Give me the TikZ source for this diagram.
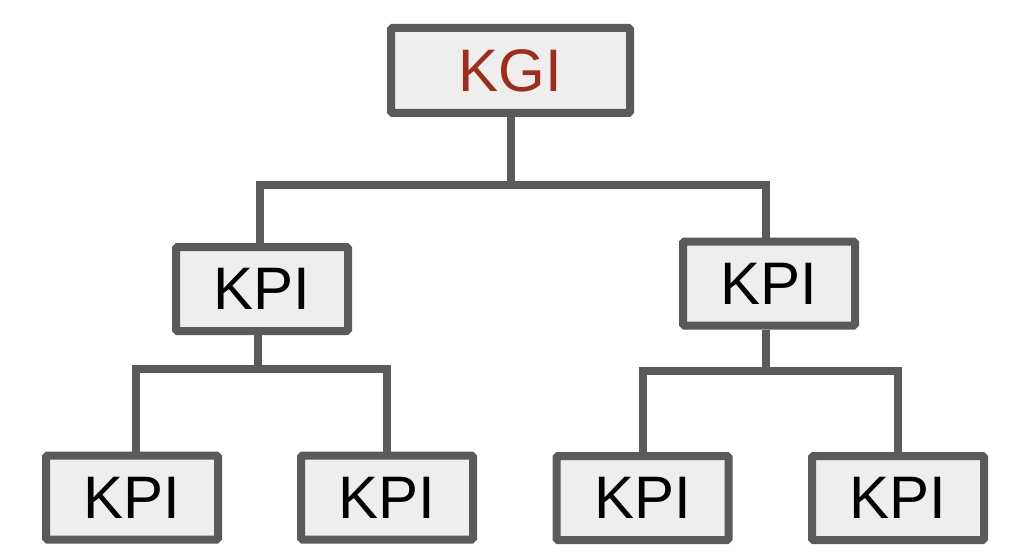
\documentclass[tikz,border=0pt]{standalone}
\usepackage{fontspec}
\setmainfont{Liberation Sans}
\usepackage{tikz}
\definecolor{boxgray}{HTML}{5A5A5A}
\definecolor{boxfill}{HTML}{EEEEEE}
\definecolor{kgired}{HTML}{A02C1B}
\begin{document}
\begin{tikzpicture}[x=1pt,y=-1pt]
\tikzset{box/.style = {draw=boxgray,fill=boxfill,line width=8pt,rounded corners=1.5pt,
  minimum width=172pt,minimum height=84pt,inner sep=0pt,font=\fontsize{60}{72}\selectfont}}
\tikzset{link/.style = {draw=boxgray,line width=8pt,line join=miter}}
\useasboundingbox (0,0) rectangle (1024,559);
% boxes
\node[box,minimum width=239pt,minimum height=85pt,text=kgired] (kgi) at (510.5,70.5) {KGI};
\node[box] (kpil) at (262,289) {KPI};
\node[box] (kpir) at (769,283.5) {KPI};
\node[box] (kpia) at (132,497.5) {KPI};
\node[box] (kpib) at (387,497.5) {KPI};
\node[box] (kpic) at (642.5,498) {KPI};
\node[box] (kpid) at (898,498) {KPI};
% joints
\coordinate (j0) at (511,185);
\coordinate (jl) at (258,369);
\coordinate (jr) at (766,371);
% links
\path[link] (kgi.south -| j0) -- (j0);
\path[link] ([xshift=-2pt]kpil.north) |- (j0) -| ([xshift=-3pt]kpir.north);
\path[link] (kpil.south -| jl) -- (jl);
\path[link] ([xshift=4pt]kpia.north) |- (jl) -| (kpib.north);
\path[link] (kpir.south -| jr) -- (jr);
\path[link] (kpic.north) |- (jr) -| (kpid.north);
\end{tikzpicture}
\end{document}
